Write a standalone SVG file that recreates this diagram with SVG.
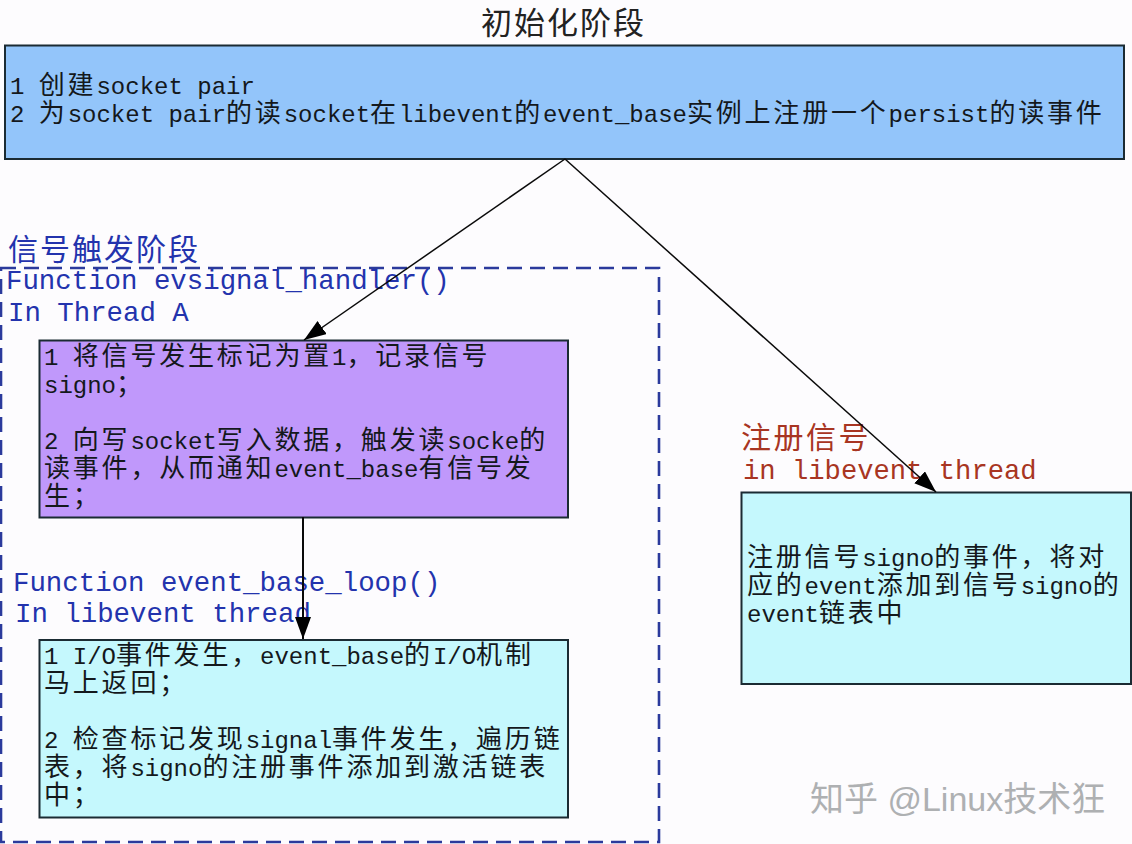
<svg xmlns="http://www.w3.org/2000/svg" width="1132" height="844" viewBox="0 0 1132 844">
<style>
text{font-family:"Liberation Mono","Noto Sans CJK SC",monospace;font-size:24px;fill:#14181c;white-space:pre}
.c{font-family:"Noto Sans CJK SC","Liberation Mono",sans-serif;font-size:26px;letter-spacing:2.800px}
.h{font-size:27.400px;fill:#2333ad}
.h .c{font-size:30px;letter-spacing:2px}
.r{font-size:27.200px;fill:#a83522}
.r .c{font-size:30px;letter-spacing:2.500px}
.box{stroke:#1b2b33;stroke-width:2}
.dash{fill:none;stroke:#2b3a9c;stroke-width:2.600;stroke-dasharray:15 8}
.conn{stroke:#0a0a0a;stroke-width:1.500;fill:none;marker-end:url(#a)}
.wm{font-family:"Liberation Sans","Noto Sans CJK SC",sans-serif;font-size:34px;fill:#aeb0b2}
</style>
<defs><marker id="a" markerUnits="userSpaceOnUse" markerWidth="24" markerHeight="18" refX="22" refY="8" orient="auto"><path d="M0 0L22 8L0 16Z" fill="#000"/></marker></defs>
<rect width="1132" height="844" fill="#fdfcfe"/>
<g id="title"><text x="481" y="34" class="h" style="fill:#222"><tspan class="c" style="font-size:31px;fill:#222">初始化阶段</tspan></text></g>
<g id="init"><rect class="box" x="5" y="45.500" width="1119" height="113.500" fill="#93c5fa"/>
<text x="10" y="94">1 <tspan class="c">创建</tspan>socket pair</text>
<text x="10" y="122">2 <tspan class="c">为</tspan>socket pair<tspan class="c">的读</tspan>socket<tspan class="c">在</tspan>libevent<tspan class="c">的</tspan>event_base<tspan class="c">实例上注册一个</tspan>persist<tspan class="c">的读事件</tspan></text></g>
<g id="signal-stage"><rect class="dash" x="1" y="268" width="658" height="574"/>
<text class="h" x="8" y="260"><tspan class="c">信号触发阶段</tspan></text>
<text class="h" x="6" y="289">Function evsignal_handler()</text>
<text class="h" x="8" y="321">In Thread A</text></g>
<g id="handler"><rect class="box" x="39.500" y="340.500" width="528.500" height="177" fill="#c098fb"/>
<text x="44" y="365">1 <tspan class="c">将信号发生标记为置</tspan>1<tspan class="c">，记录信号</tspan></text>
<text x="44" y="393">signo<tspan class="c">；</tspan></text>
<text x="44" y="449">2 <tspan class="c">向写</tspan>socket<tspan class="c">写入数据，触发读</tspan>socke<tspan class="c">的</tspan></text>
<text x="44" y="477"><tspan class="c">读事件，从而通知</tspan>event_base<tspan class="c">有信号发</tspan></text>
<text x="44" y="505"><tspan class="c">生；</tspan></text></g>
<g id="loop"><text class="h" x="13" y="591">Function event_base_loop()</text>
<text class="h" x="15" y="622">In libevent thread</text>
<rect class="box" x="39.500" y="640" width="528.500" height="177.500" fill="#c5f8fd"/>
<text x="44" y="664">1 I/O<tspan class="c">事件发生，</tspan>event_base<tspan class="c">的</tspan>I/O<tspan class="c">机制</tspan></text>
<text x="44" y="692"><tspan class="c">马上返回；</tspan></text>
<text x="44" y="748">2 <tspan class="c">检查标记发现</tspan>signal<tspan class="c">事件发生，遍历链</tspan></text>
<text x="44" y="776"><tspan class="c">表，将</tspan>signo<tspan class="c">的注册事件添加到激活链表</tspan></text>
<text x="44" y="804"><tspan class="c">中；</tspan></text></g>
<g id="register"><text class="r" x="741" y="448"><tspan class="c">注册信号</tspan></text>
<text class="r" x="743" y="479">in libevent thread</text>
<rect class="box" x="741.500" y="492.500" width="389.500" height="191.500" fill="#c5f8fd"/>
<text x="747" y="566"><tspan class="c">注册信号</tspan>signo<tspan class="c">的事件，将对</tspan></text>
<text x="747" y="594"><tspan class="c">应的</tspan>event<tspan class="c">添加到信号</tspan>signo<tspan class="c">的</tspan></text>
<text x="747" y="622">event<tspan class="c">链表中</tspan></text></g>
<g id="connectors">
<path class="conn" d="M565 159L304 340"/>
<path class="conn" d="M565 159L936 492"/>
<path class="conn" style="stroke-width:2" d="M303 517L303 639"/>
</g>
<g id="watermark"><text class="wm" x="810" y="811">知乎 @Linux技术狂</text></g>
</svg>
